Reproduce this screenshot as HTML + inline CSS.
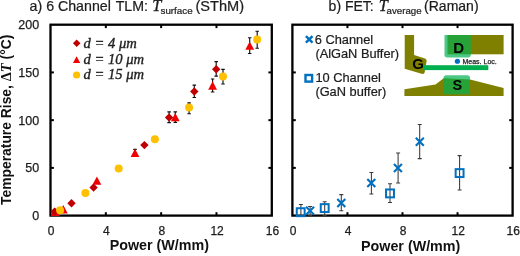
<!DOCTYPE html><html><head><meta charset="utf-8"><title>TLM and FET temperature rise</title>
<style>html,body{margin:0;padding:0;background:#fff;width:520px;height:256px;overflow:hidden}svg{display:block}.s{font-family:'Liberation Sans', Arial, sans-serif}.t{font-family:'Liberation Serif', 'Times New Roman', serif}</style></head><body>
<svg width="520" height="256" viewBox="0 0 520 256">
<rect width="520" height="256" fill="#fff"/>
<rect x="50.50" y="24.70" width="221.30" height="190.90" fill="none" stroke="#000" stroke-width="2.30"/>
<line x1="105.83" y1="215.60" x2="105.83" y2="212.20" stroke="#000" stroke-width="2"/>
<line x1="105.83" y1="24.70" x2="105.83" y2="28.10" stroke="#000" stroke-width="2"/>
<line x1="161.15" y1="215.60" x2="161.15" y2="212.20" stroke="#000" stroke-width="2"/>
<line x1="161.15" y1="24.70" x2="161.15" y2="28.10" stroke="#000" stroke-width="2"/>
<line x1="216.48" y1="215.60" x2="216.48" y2="212.20" stroke="#000" stroke-width="2"/>
<line x1="216.48" y1="24.70" x2="216.48" y2="28.10" stroke="#000" stroke-width="2"/>
<line x1="50.50" y1="167.88" x2="53.90" y2="167.88" stroke="#000" stroke-width="2"/>
<line x1="271.80" y1="167.88" x2="268.40" y2="167.88" stroke="#000" stroke-width="2"/>
<line x1="50.50" y1="120.15" x2="53.90" y2="120.15" stroke="#000" stroke-width="2"/>
<line x1="271.80" y1="120.15" x2="268.40" y2="120.15" stroke="#000" stroke-width="2"/>
<line x1="50.50" y1="72.42" x2="53.90" y2="72.42" stroke="#000" stroke-width="2"/>
<line x1="271.80" y1="72.42" x2="268.40" y2="72.42" stroke="#000" stroke-width="2"/>
<text class="s" x="51.10" y="234.5" font-size="12" fill="#1c1c1c" stroke="#1c1c1c" stroke-width="0.25" text-anchor="middle">0</text>
<text class="s" x="106.42" y="234.5" font-size="12" fill="#1c1c1c" stroke="#1c1c1c" stroke-width="0.25" text-anchor="middle">4</text>
<text class="s" x="161.75" y="234.5" font-size="12" fill="#1c1c1c" stroke="#1c1c1c" stroke-width="0.25" text-anchor="middle">8</text>
<text class="s" x="217.08" y="234.5" font-size="12" fill="#1c1c1c" stroke="#1c1c1c" stroke-width="0.25" text-anchor="middle">12</text>
<text class="s" x="272.40" y="234.5" font-size="12" fill="#1c1c1c" stroke="#1c1c1c" stroke-width="0.25" text-anchor="middle">16</text>
<rect x="292.40" y="24.70" width="220.20" height="190.90" fill="none" stroke="#000" stroke-width="2.30"/>
<line x1="347.45" y1="215.60" x2="347.45" y2="212.20" stroke="#000" stroke-width="2"/>
<line x1="347.45" y1="24.70" x2="347.45" y2="28.10" stroke="#000" stroke-width="2"/>
<line x1="402.50" y1="215.60" x2="402.50" y2="212.20" stroke="#000" stroke-width="2"/>
<line x1="402.50" y1="24.70" x2="402.50" y2="28.10" stroke="#000" stroke-width="2"/>
<line x1="457.55" y1="215.60" x2="457.55" y2="212.20" stroke="#000" stroke-width="2"/>
<line x1="457.55" y1="24.70" x2="457.55" y2="28.10" stroke="#000" stroke-width="2"/>
<line x1="292.40" y1="167.88" x2="295.80" y2="167.88" stroke="#000" stroke-width="2"/>
<line x1="512.60" y1="167.88" x2="509.20" y2="167.88" stroke="#000" stroke-width="2"/>
<line x1="292.40" y1="120.15" x2="295.80" y2="120.15" stroke="#000" stroke-width="2"/>
<line x1="512.60" y1="120.15" x2="509.20" y2="120.15" stroke="#000" stroke-width="2"/>
<line x1="292.40" y1="72.42" x2="295.80" y2="72.42" stroke="#000" stroke-width="2"/>
<line x1="512.60" y1="72.42" x2="509.20" y2="72.42" stroke="#000" stroke-width="2"/>
<text class="s" x="293.00" y="234.5" font-size="12" fill="#1c1c1c" stroke="#1c1c1c" stroke-width="0.25" text-anchor="middle">0</text>
<text class="s" x="348.05" y="234.5" font-size="12" fill="#1c1c1c" stroke="#1c1c1c" stroke-width="0.25" text-anchor="middle">4</text>
<text class="s" x="403.10" y="234.5" font-size="12" fill="#1c1c1c" stroke="#1c1c1c" stroke-width="0.25" text-anchor="middle">8</text>
<text class="s" x="458.15" y="234.5" font-size="12" fill="#1c1c1c" stroke="#1c1c1c" stroke-width="0.25" text-anchor="middle">12</text>
<text class="s" x="513.20" y="234.5" font-size="12" fill="#1c1c1c" stroke="#1c1c1c" stroke-width="0.25" text-anchor="middle">16</text>
<text class="s" x="39.1" y="220.00" font-size="12.5" fill="#1c1c1c" stroke="#1c1c1c" stroke-width="0.25" text-anchor="end">0</text>
<text class="s" x="39.1" y="172.28" font-size="12.5" fill="#1c1c1c" stroke="#1c1c1c" stroke-width="0.25" text-anchor="end">50</text>
<text class="s" x="39.1" y="124.55" font-size="12.5" fill="#1c1c1c" stroke="#1c1c1c" stroke-width="0.25" text-anchor="end">100</text>
<text class="s" x="39.1" y="76.82" font-size="12.5" fill="#1c1c1c" stroke="#1c1c1c" stroke-width="0.25" text-anchor="end">150</text>
<text class="s" x="39.1" y="29.10" font-size="12.5" fill="#1c1c1c" stroke="#1c1c1c" stroke-width="0.25" text-anchor="end">200</text>
<text class="s" x="109.7" y="249.6" font-size="14.3" font-weight="bold" fill="#111">Power (W/mm)</text>
<text class="s" x="361.0" y="251.1" font-size="14.3" font-weight="bold" fill="#111">Power (W/mm)</text>
<text class="s" transform="translate(10.8,119.8) rotate(-90)" font-size="13.85" font-weight="bold" fill="#111" text-anchor="middle">Temperature Rise, <tspan class="t" font-weight="bold" font-size="14.5">&#916;<tspan font-style="italic">T</tspan></tspan> (&#176;C)</text>
<text class="s" y="11" font-size="14.2" fill="#1c1c1c" stroke="#1c1c1c" stroke-width="0.22"><tspan x="29.6">a) 6 Channel</tspan><tspan x="115.7">TLM:</tspan><tspan x="152.2" y="10.6" class="t" font-style="italic" font-size="16.3" stroke-width="0.35">T</tspan><tspan x="160.5" y="14.1" font-size="9.8">surface</tspan><tspan x="195.4" y="11" font-size="14.6">(SThM)</tspan></text>
<text class="s" y="11" font-size="14" fill="#1c1c1c" stroke="#1c1c1c" stroke-width="0.22"><tspan x="328.6">b) FET:</tspan><tspan x="378.7" y="10.6" class="t" font-style="italic" font-size="16.3" stroke-width="0.35">T</tspan><tspan x="386.6" y="14.1" font-size="9.7">average</tspan><tspan x="424.1" y="11">(Raman)</tspan></text>
<path d="M169.10 111.80L169.10 122.60M167.35 111.80L170.85 111.80M167.35 122.60L170.85 122.60" stroke="#111" stroke-width="1.15" fill="none"/>
<path d="M175.30 111.80L175.30 122.30M173.55 111.80L177.05 111.80M173.55 122.30L177.05 122.30" stroke="#111" stroke-width="1.15" fill="none"/>
<path d="M194.30 85.10L194.30 97.50M192.55 85.10L196.05 85.10M192.55 97.50L196.05 97.50" stroke="#111" stroke-width="1.15" fill="none"/>
<path d="M216.20 61.60L216.20 76.10M214.45 61.60L217.95 61.60M214.45 76.10L217.95 76.10" stroke="#111" stroke-width="1.15" fill="none"/>
<path d="M212.60 79.00L212.60 92.00M210.85 79.00L214.35 79.00M210.85 92.00L214.35 92.00" stroke="#111" stroke-width="1.15" fill="none"/>
<path d="M249.70 37.70L249.70 53.50M247.95 37.70L251.45 37.70M247.95 53.50L251.45 53.50" stroke="#111" stroke-width="1.15" fill="none"/>
<path d="M189.10 102.80L189.10 113.70M187.35 102.80L190.85 102.80M187.35 113.70L190.85 113.70" stroke="#111" stroke-width="1.15" fill="none"/>
<path d="M223.00 69.30L223.00 84.00M221.25 69.30L224.75 69.30M221.25 84.00L224.75 84.00" stroke="#111" stroke-width="1.15" fill="none"/>
<path d="M257.20 31.20L257.20 48.20M255.45 31.20L258.95 31.20M255.45 48.20L258.95 48.20" stroke="#111" stroke-width="1.15" fill="none"/>
<path d="M135.00 149.30L135.00 155.50M133.25 149.30L136.75 149.30M133.25 155.50L136.75 155.50" stroke="#111" stroke-width="1.15" fill="none"/>
<path d="M55.00 207.70L59.40 216.06L50.60 216.06Z" fill="#F00000"/>
<path d="M63.30 205.10L67.70 213.46L58.90 213.46Z" fill="#F00000"/>
<path d="M96.90 176.40L101.30 184.76L92.50 184.76Z" fill="#F00000"/>
<path d="M135.00 148.70L139.40 157.06L130.60 157.06Z" fill="#F00000"/>
<path d="M175.30 113.00L179.70 121.36L170.90 121.36Z" fill="#F00000"/>
<path d="M212.60 81.30L217.00 89.66L208.20 89.66Z" fill="#F00000"/>
<path d="M249.70 41.50L254.10 49.86L245.30 49.86Z" fill="#F00000"/>
<path d="M54.60 207.40L58.80 211.60L54.60 215.80L50.40 211.60Z" fill="#C00000"/>
<path d="M71.50 199.10L75.70 203.30L71.50 207.50L67.30 203.30Z" fill="#C00000"/>
<path d="M93.60 183.40L97.80 187.60L93.60 191.80L89.40 187.60Z" fill="#C00000"/>
<path d="M144.40 140.90L148.60 145.10L144.40 149.30L140.20 145.10Z" fill="#C00000"/>
<path d="M169.10 113.30L173.30 117.50L169.10 121.70L164.90 117.50Z" fill="#C00000"/>
<path d="M194.30 87.30L198.50 91.50L194.30 95.70L190.10 91.50Z" fill="#C00000"/>
<path d="M216.20 65.00L220.40 69.20L216.20 73.40L212.00 69.20Z" fill="#C00000"/>
<circle cx="60.10" cy="210.30" r="4.00" fill="#FFC000"/>
<circle cx="85.40" cy="193.10" r="4.00" fill="#FFC000"/>
<circle cx="118.70" cy="168.50" r="4.00" fill="#FFC000"/>
<circle cx="154.90" cy="139.20" r="4.00" fill="#FFC000"/>
<circle cx="189.10" cy="107.60" r="4.00" fill="#FFC000"/>
<circle cx="223.00" cy="76.40" r="4.00" fill="#FFC000"/>
<circle cx="257.20" cy="39.40" r="4.00" fill="#FFC000"/>
<path d="M76.70 39.40L80.50 43.20L76.70 47.00L72.90 43.20Z" fill="#C00000"/>
<path d="M76.60 56.24L80.20 63.08L73.00 63.08Z" fill="#F00000"/>
<circle cx="76.60" cy="75.00" r="3.60" fill="#FFC000"/>
<text class="t" x="83.5" y="47.60" font-size="14.6" font-style="italic" fill="#222" stroke="#222" stroke-width="0.35">d = 4 &#956;m</text>
<text class="t" x="83.5" y="63.50" font-size="14.6" font-style="italic" fill="#222" stroke="#222" stroke-width="0.35">d = 10 &#956;m</text>
<text class="t" x="83.5" y="79.20" font-size="14.6" font-style="italic" fill="#222" stroke="#222" stroke-width="0.35">d = 15 &#956;m</text>
<path d="M300.90 204.40L300.90 215.60M298.90 204.40L302.90 204.40M298.90 215.60L302.90 215.60" stroke="#3a3a3a" stroke-width="1.05" fill="none"/>
<path d="M310.10 206.50L310.10 215.60M308.10 206.50L312.10 206.50M308.10 215.60L312.10 215.60" stroke="#3a3a3a" stroke-width="1.05" fill="none"/>
<path d="M324.70 201.70L324.70 215.60M322.70 201.70L326.70 201.70M322.70 215.60L326.70 215.60" stroke="#3a3a3a" stroke-width="1.05" fill="none"/>
<path d="M341.30 194.60L341.30 210.80M339.30 194.60L343.30 194.60M339.30 210.80L343.30 210.80" stroke="#3a3a3a" stroke-width="1.05" fill="none"/>
<path d="M371.40 172.50L371.40 193.90M369.40 172.50L373.40 172.50M369.40 193.90L373.40 193.90" stroke="#3a3a3a" stroke-width="1.05" fill="none"/>
<path d="M398.10 153.00L398.10 183.00M396.10 153.00L400.10 153.00M396.10 183.00L400.10 183.00" stroke="#3a3a3a" stroke-width="1.05" fill="none"/>
<path d="M419.70 124.40L419.70 158.60M417.70 124.40L421.70 124.40M417.70 158.60L421.70 158.60" stroke="#3a3a3a" stroke-width="1.05" fill="none"/>
<path d="M390.00 183.75L390.00 202.50M388.00 183.75L392.00 183.75M388.00 202.50L392.00 202.50" stroke="#3a3a3a" stroke-width="1.05" fill="none"/>
<path d="M459.60 155.60L459.60 190.00M457.60 155.60L461.60 155.60M457.60 190.00L461.60 190.00" stroke="#3a3a3a" stroke-width="1.05" fill="none"/>
<rect x="296.75" y="208.25" width="7.90" height="7.90" fill="none" stroke="#0070C0" stroke-width="2.00"/>
<rect x="320.75" y="204.15" width="7.90" height="7.90" fill="none" stroke="#0070C0" stroke-width="2.00"/>
<rect x="386.05" y="189.45" width="7.90" height="7.90" fill="none" stroke="#0070C0" stroke-width="2.00"/>
<rect x="455.65" y="169.15" width="7.90" height="7.90" fill="none" stroke="#0070C0" stroke-width="2.00"/>
<path d="M306.10 206.80L314.10 214.80M306.10 214.80L314.10 206.80" stroke="#0070C0" stroke-width="2.10" fill="none"/>
<path d="M337.30 198.90L345.30 206.90M337.30 206.90L345.30 198.90" stroke="#0070C0" stroke-width="2.10" fill="none"/>
<path d="M367.30 178.90L375.30 186.90M367.30 186.90L375.30 178.90" stroke="#0070C0" stroke-width="2.10" fill="none"/>
<path d="M393.90 164.10L401.90 172.10M393.90 172.10L401.90 164.10" stroke="#0070C0" stroke-width="2.10" fill="none"/>
<path d="M415.80 137.70L423.80 145.70M415.80 145.70L423.80 137.70" stroke="#0070C0" stroke-width="2.10" fill="none"/>
<path d="M305.90 36.10L312.50 42.70M305.90 42.70L312.50 36.10" stroke="#0070C0" stroke-width="2.40" fill="none"/>
<rect x="305.50" y="75.00" width="6.60" height="6.60" fill="none" stroke="#0070C0" stroke-width="2.40"/>
<text class="s" x="314.8" y="43.5" font-size="12.8" fill="#1c1c1c" stroke="#1c1c1c" stroke-width="0.22">6 Channel</text>
<text class="s" x="315.4" y="58" font-size="12.8" fill="#1c1c1c" stroke="#1c1c1c" stroke-width="0.22">(AlGaN Buffer)</text>
<text class="s" x="315.4" y="81.5" font-size="12.8" fill="#1c1c1c" stroke="#1c1c1c" stroke-width="0.22">10 Channel</text>
<text class="s" x="315.4" y="95.6" font-size="12.8" fill="#1c1c1c" stroke="#1c1c1c" stroke-width="0.22">(GaN buffer)</text>
<rect x="447.5" y="35" width="56.1" height="19.3" fill="#808000"/>
<path d="M404.4 89.3 L435.5 84.6 L443.7 78.2 L470 79.6 L503.6 88.1 L503.6 95.9 L404.4 95.9 Z" fill="#808000"/>
<path d="M404.7 34.9 L414.1 34.9 L414.1 55 L425 58.6 Q426.8 59.4 426.6 61 L424.6 72.6 Q424.2 74.4 422.4 74 L404.7 68.8 Z" fill="#808000"/>
<rect x="424" y="65.2" width="64.3" height="4.9" fill="#00B050"/>
<path d="M444.5 35 H470.8 V54.7 Q470.8 57.4 468.1 57.4 H447.2 Q444.5 57.4 444.5 54.7 Z" fill="#00B050" fill-opacity="0.7"/>
<path d="M443.6 94.2 V78 Q443.6 75.3 446.3 75.3 H467.3 Q470 75.3 470 78 V94.2 Z" fill="#00B050" fill-opacity="0.7"/>
<text class="s" x="458.7" y="53.2" font-size="15" font-weight="bold" fill="#000" text-anchor="middle">D</text>
<text class="s" x="457.4" y="89.6" font-size="14.5" font-weight="bold" fill="#000" text-anchor="middle">S</text>
<text class="s" x="418" y="69" font-size="15" font-weight="bold" fill="#000" text-anchor="middle">G</text>
<circle cx="457.4" cy="61.25" r="2.6" fill="#0070C0"/>
<text class="s" x="462.5" y="63.7" font-size="7" fill="#222" stroke="#222" stroke-width="0.25">Meas. Loc.</text>
</svg></body></html>
